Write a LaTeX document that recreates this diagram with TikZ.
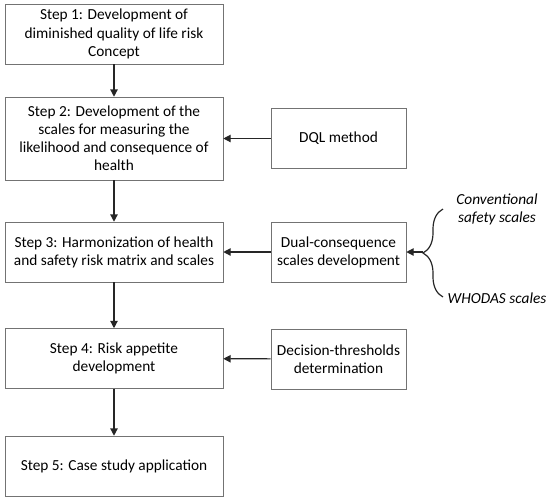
\documentclass[tikz,border=0pt]{standalone}
\usepackage{fontspec}
\setmainfont{Carlito}
\usepackage{tikz}
\usetikzlibrary{arrows.meta,positioning,decorations.pathreplacing}

\tikzset{
    stepbox/.style={rectangle,draw=black!55,fill=white,align=center,minimum width=163.5pt,minimum height=45pt,inner sep=2pt},
    inbox/.style={rectangle,draw=black!55,fill=white,align=center,minimum width=101.25pt,minimum height=45pt,inner sep=2pt},
    flow/.style={-{Triangle[length=5.5pt,width=5.5pt]},line width=0.9pt,draw=black!85}
}

\begin{document}
\begin{tikzpicture}[x=0.75pt,y=-0.75pt,font=\fontsize{11.5}{13.6}\selectfont]
    \useasboundingbox (0,0) rectangle (550,501);

    % Steps
    \node[stepbox] (s1) at (114,34) {Step 1: Development of\\diminished quality of life risk\\Concept};
    \node[stepbox,minimum height=62.25pt] (s2) at (114,138.5) {Step 2: Development of the\\scales for measuring the\\likelihood and consequence of\\health};
    \node[stepbox] (s3) at (114,252) {Step 3: Harmonization of health\\and safety risk matrix and scales};
    \node[stepbox] (s4) at (114,358.5) {Step 4: Risk appetite\\development};
    \node[stepbox] (s5) at (114,466) {Step 5: Case study application};

    % Inputs
    \node[inbox] (dql) at (338.5,138.5) {DQL method};
    \node[inbox] (dual) at (338.5,252) {Dual-consequence\\scales development};
    \node[inbox] (dec) at (338.5,359) {Decision-thresholds\\determination};

    % Scales
    \node[align=center,font=\fontsize{11.5}{13.6}\selectfont\itshape] (conv) at (497,209) {Conventional\\safety scales};
    \node[font=\fontsize{11.5}{13.6}\selectfont\itshape] (who) at (497,298) {WHODAS scales};
    \draw[line width=0.9pt,draw=black!85,decorate,decoration={brace,amplitude=15pt}] (443,297) -- (443,209);
    \coordinate (tip) at (423,252);

    % Arrows
    \draw[flow] (s1) -- (s2);
    \draw[flow] (s2) -- (s3);
    \draw[flow] (s3) -- (s4);
    \draw[flow] (s4) -- (s5);
    \draw[flow] (dql) -- (s2);
    \draw[flow] (dual) -- (s3);
    \draw[flow] (dec) -- (s4);
    \draw[flow] (tip) -- (dual);
\end{tikzpicture}
\end{document}
